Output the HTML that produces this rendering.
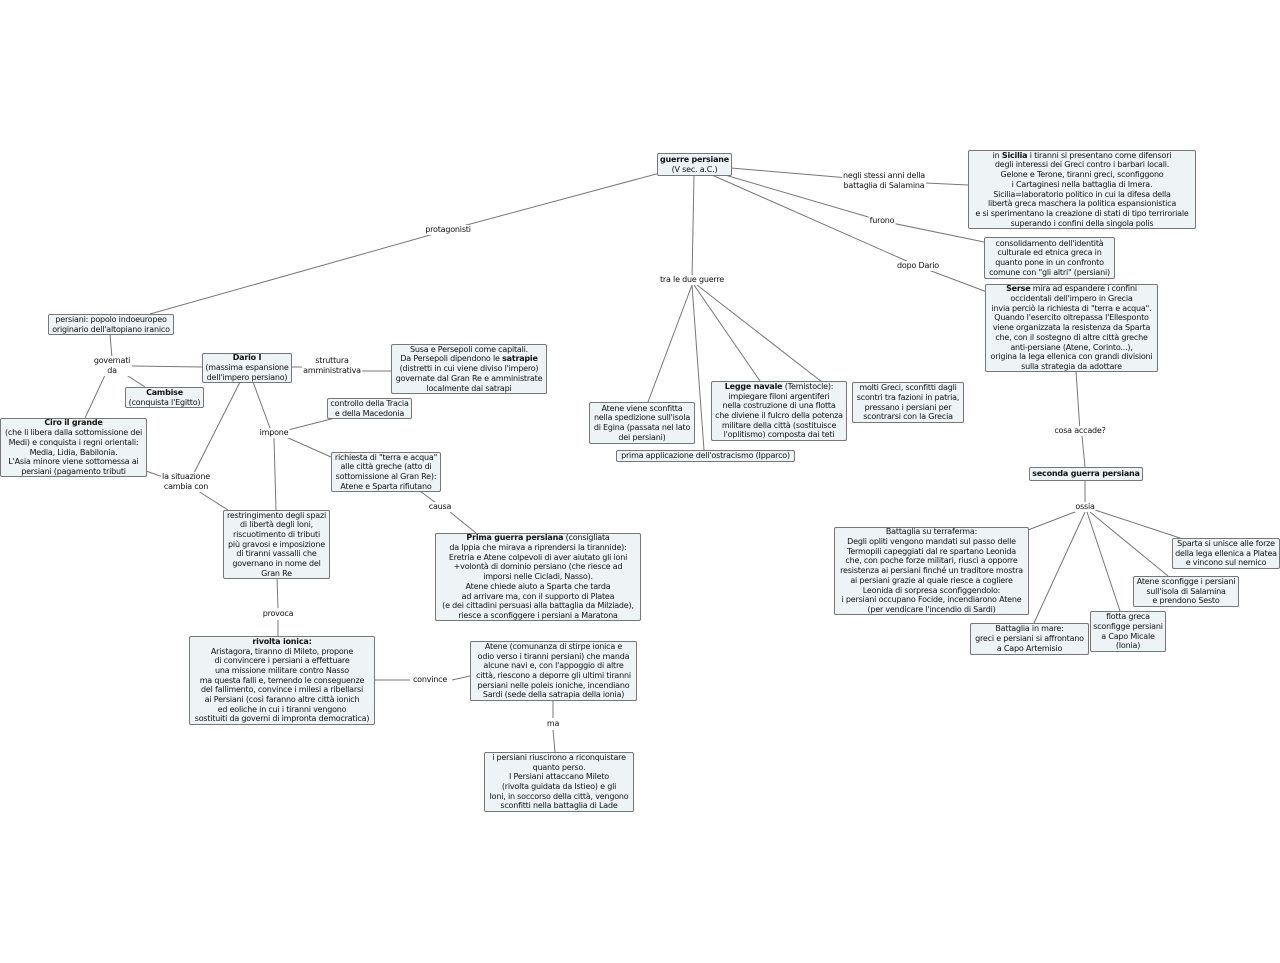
<!DOCTYPE html>
<html><head><meta charset="utf-8"><style>
body{margin:0;width:1280px;height:963px;background:#fff;position:relative;overflow:hidden;font-family:"DejaVu Sans","Liberation Sans",sans-serif;font-size:8px;letter-spacing:-0.2px;color:#111}
.b{position:absolute;box-sizing:border-box;background:#eef4f6;border:1px solid #777;border-radius:2px;text-align:center;line-height:9.7px;padding:0 1px;white-space:nowrap;display:flex;flex-direction:column;justify-content:center;overflow:hidden}
.l{position:absolute;background:#fff;text-align:center;line-height:10px;white-space:nowrap;transform:translate(-50%,-50%);padding:0 1px}
svg{position:absolute;left:0;top:0}
</style></head><body>
<svg width="1280" height="963" stroke="#777" stroke-width="1" fill="none">
<line x1="660" y1="173" x2="448" y2="230"/><line x1="448" y1="230" x2="150" y2="314"/>
<line x1="694" y1="175" x2="692" y2="280"/>
<line x1="731" y1="168" x2="884" y2="181"/><line x1="884" y1="181" x2="968" y2="185"/>
<line x1="725" y1="175" x2="882" y2="221"/><line x1="882" y1="221" x2="984" y2="242"/>
<line x1="712" y1="175" x2="918" y2="266"/><line x1="918" y1="266" x2="987" y2="292"/>
<line x1="1076" y1="371" x2="1080" y2="431"/><line x1="1082" y1="436" x2="1085" y2="467"/>
<line x1="1085" y1="480" x2="1085" y2="507"/>
<line x1="1080" y1="510" x2="1028" y2="530"/><line x1="1085" y1="512" x2="1034" y2="623"/>
<line x1="1087" y1="512" x2="1120" y2="611"/><line x1="1090" y1="512" x2="1168" y2="576"/>
<line x1="1095" y1="510" x2="1180" y2="538"/>
<line x1="692" y1="285" x2="648" y2="402"/><line x1="692" y1="285" x2="704" y2="450"/>
<line x1="694" y1="285" x2="760" y2="381"/><line x1="697" y1="285" x2="822" y2="382"/>
<line x1="110" y1="334" x2="112" y2="358"/><line x1="106" y1="373" x2="85" y2="418"/>
<line x1="132" y1="366" x2="202" y2="367"/><line x1="125" y1="374" x2="145" y2="387"/>
<line x1="291" y1="367" x2="305" y2="367"/><line x1="362" y1="371" x2="391" y2="371"/>
<line x1="146" y1="471" x2="163" y2="477"/><line x1="198" y1="491" x2="228" y2="510"/>
<line x1="192" y1="477" x2="240" y2="382"/>
<line x1="253" y1="382" x2="270" y2="428"/><line x1="288" y1="430" x2="335" y2="418"/>
<line x1="286" y1="437" x2="331" y2="457"/><line x1="274" y1="438" x2="276" y2="510"/>
<line x1="420" y1="491" x2="436" y2="503"/><line x1="450" y1="512" x2="476" y2="533"/>
<line x1="277" y1="578" x2="278" y2="608"/><line x1="278" y1="620" x2="278" y2="636"/>
<line x1="374" y1="680" x2="410" y2="680"/><line x1="452" y1="680" x2="470" y2="676"/>
<line x1="553" y1="700" x2="553" y2="718"/><line x1="553" y1="730" x2="555" y2="752"/>
</svg>
<div class="b" style="left:657px;top:153px;width:75px;height:23px"><b>guerre persiane</b>(V sec. a.C.)</div>
<div class="b" style="left:968px;top:150px;width:228px;height:79px"><span>in <b>Sicilia</b> i tiranni si presentano come difensori</span>degli interessi dei Greci contro i barbari locali.<br>Gelone e Terone, tiranni greci, sconfiggono<br>i Cartaginesi nella battaglia di Imera.<br>Sicilia=laboratorio politico in cui la difesa della<br>libertà greca maschera la politica espansionistica<br>e si sperimentano la creazione di stati di tipo terriroriale<br>superando i confini della singola polis</div>
<div class="b" style="left:984px;top:237px;width:131px;height:42px">consolidamento dell'identità<br>culturale ed etnica greca in<br>quanto pone in un confronto<br>comune con "gli altri" (persiani)</div>
<div class="b" style="left:985px;top:284px;width:173px;height:88px"><span><b>Serse</b> mira ad espandere i confini</span>occidentali dell'impero in Grecia<br>invia perciò la richiesta di "terra e acqua".<br>Quando l'esercito oltrepassa l'Ellesponto<br>viene organizzata la resistenza da Sparta<br>che, con il sostegno di altre città greche<br>anti-persiane (Atene, Corinto...),<br>origina la lega ellenica con grandi divisioni<br>sulla strategia da adottare</div>
<div class="b" style="left:1029px;top:467px;width:114px;height:14px"><b>seconda guerra persiana</b></div>
<div class="b" style="left:834px;top:527px;width:195px;height:88px">Battaglia su terraferma:<br>Degli opliti vengono mandati sul passo delle<br>Termopili capeggiati dal re spartano Leonida<br>che, con poche forze militari, riuscì a opporre<br>resistenza ai persiani finché un traditore mostra<br>ai persiani grazie al quale riesce a cogliere<br>Leonida di sorpresa sconfiggendolo:<br>i persiani occupano Focide, incendiarono Atene<br>(per vendicare l'incendio di Sardi)</div>
<div class="b" style="left:970px;top:623px;width:119px;height:32px">Battaglia in mare:<br>greci e persiani si affrontano<br>a Capo Artemisio</div>
<div class="b" style="left:1090px;top:611px;width:76px;height:41px">flotta greca<br>sconfigge persiani<br>a Capo Micale<br>(Ionia)</div>
<div class="b" style="left:1133px;top:576px;width:106px;height:31px">Atene sconfigge i persiani<br>sull'isola di Salamina<br>e prendono Sesto</div>
<div class="b" style="left:1172px;top:538px;width:108px;height:31px">Sparta si unisce alle forze<br>della lega ellenica a Platea<br>e vincono sul nemico</div>
<div class="b" style="left:589px;top:402px;width:106px;height:42px">Atene viene sconfitta<br>nella spedizione sull'isola<br>di Egina (passata nel lato<br>dei persiani)</div>
<div class="b" style="left:616px;top:450px;width:179px;height:12px">prima applicazione dell'ostracismo (Ipparco)</div>
<div class="b" style="left:711px;top:381px;width:136px;height:60px"><span><b>Legge navale</b> (Temistocle):</span>impiegare filoni argentiferi<br>nella costruzione di una flotta<br>che diviene il fulcro della potenza<br>militare della città (sostituisce<br>l'oplitismo) composta dai teti</div>
<div class="b" style="left:852px;top:382px;width:112px;height:41px">molti Greci, sconfitti dagli<br>scontri tra fazioni in patria,<br>pressano i persiani per<br>scontrarsi con la Grecia</div>
<div class="b" style="left:48px;top:314px;width:126px;height:21px">persiani: popolo indoeuropeo<br>originario dell'altopiano iranico</div>
<div class="b" style="left:202px;top:353px;width:90px;height:30px"><b>Dario I</b>(massima espansione<br>dell'impero persiano)</div>
<div class="b" style="left:125px;top:387px;width:79px;height:21px"><b>Cambise</b>(conquista l'Egitto)</div>
<div class="b" style="left:0px;top:418px;width:147px;height:59px"><b>Ciro il grande</b>(che li libera dalla sottomissione dei<br>Medi) e conquista i regni orientali:<br>Media, Lidia, Babilonia.<br>L'Asia minore viene sottomessa ai<br>persiani (pagamento tributi</div>
<div class="b" style="left:391px;top:344px;width:156px;height:50px">Susa e Persepoli come capitali.<br><span>Da Persepoli dipendono le <b>satrapie</b></span>(distretti in cui viene diviso l'impero)<br>governate dal Gran Re e amministrate<br>localmente dai satrapi</div>
<div class="b" style="left:327px;top:398px;width:85px;height:21px">controllo della Tracia<br>e della Macedonia</div>
<div class="b" style="left:331px;top:452px;width:110px;height:40px">richiesta di "terra e acqua"<br>alle città greche (atto di<br>sottomissione al Gran Re):<br>Atene e Sparta rifiutano</div>
<div class="b" style="left:223px;top:510px;width:107px;height:69px">restringimento degli spazi<br>di libertà degli Ioni,<br>riscuotimento di tributi<br>più gravosi e imposizione<br>di tiranni vassalli che<br>governano in nome del<br>Gran Re</div>
<div class="b" style="left:435px;top:533px;width:206px;height:88px"><span><b>Prima guerra persiana</b> (consigliata</span>da Ippia che mirava a riprendersi la tirannide):<br>Eretria e Atene colpevoli di aver aiutato gli ioni<br>+volontà di dominio persiano (che riesce ad<br>imporsi nelle Cicladi, Nasso).<br>Atene chiede aiuto a Sparta che tarda<br>ad arrivare ma, con il supporto di Platea<br>(e dei cittadini persuasi alla battaglia da Milziade),<br>riesce a sconfiggere i persiani a Maratona</div>
<div class="b" style="left:189px;top:636px;width:186px;height:89px"><b>rivolta ionica:</b>Aristagora, tiranno di Mileto, propone<br>di convincere i persiani a effettuare<br>una missione militare contro Nasso<br>ma questa falli e, temendo le conseguenze<br>del fallimento, convince i milesi a ribellarsi<br>ai Persiani (così faranno altre città ionich<br>ed eoliche in cui i tiranni vengono<br>sostituiti da governi di impronta democratica)</div>
<div class="b" style="left:470px;top:641px;width:167px;height:60px">Atene (comunanza di stirpe ionica e<br>odio verso i tiranni persiani) che manda<br>alcune navi e, con l'appoggio di altre<br>città, riescono a deporre gli ultimi tiranni<br>persiani nelle poleis ioniche, incendiano<br>Sardi (sede della satrapia della ionia)</div>
<div class="b" style="left:484px;top:752px;width:150px;height:60px">i persiani riuscirono a riconquistare<br>quanto perso.<br>I Persiani attaccano Mileto<br>(rivolta guidata da Istieo) e gli<br>Ioni, in soccorso della città, vengono<br>sconfitti nella battaglia di Lade</div>
<div class="l" style="left:448px;top:230px">protagonisti</div>
<div class="l" style="left:692px;top:280px">tra le due guerre</div>
<div class="l" style="left:884px;top:181px">negli stessi anni della<br>battaglia di Salamina</div>
<div class="l" style="left:882px;top:221px">furono</div>
<div class="l" style="left:918px;top:266px">dopo Dario</div>
<div class="l" style="left:1080px;top:431px">cosa accade?</div>
<div class="l" style="left:1085px;top:507px">ossia</div>
<div class="l" style="left:112px;top:366px">governati<br>da</div>
<div class="l" style="left:332px;top:366px">struttura<br>amministrativa</div>
<div class="l" style="left:274px;top:433px">impone</div>
<div class="l" style="left:186px;top:482px">la situazione<br>cambia con</div>
<div class="l" style="left:440px;top:507px">causa</div>
<div class="l" style="left:278px;top:614px">provoca</div>
<div class="l" style="left:430px;top:680px">convince</div>
<div class="l" style="left:553px;top:724px">ma</div>
</body></html>
